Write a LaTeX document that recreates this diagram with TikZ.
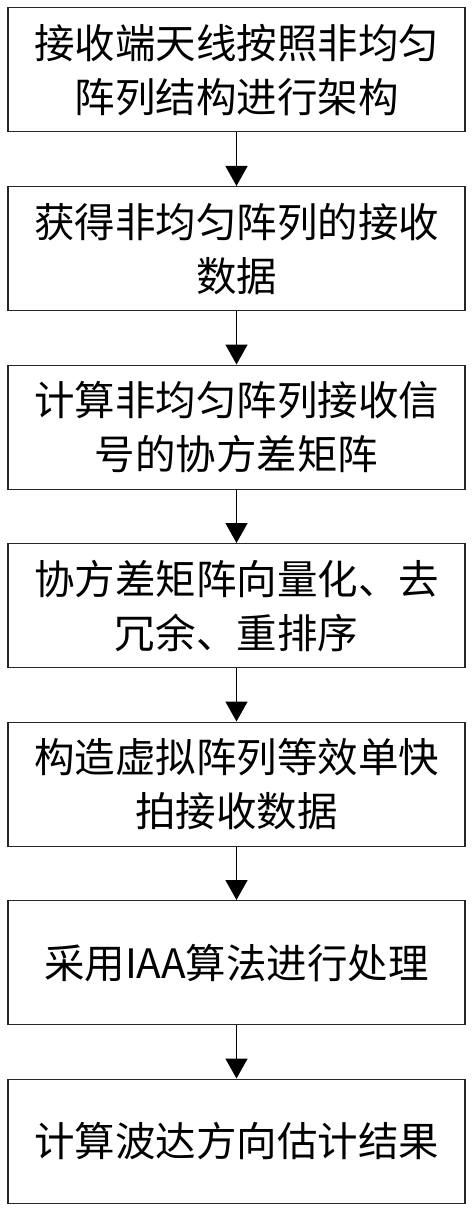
\documentclass[tikz,border=0pt]{standalone}
\usepackage{fontspec}
\newfontfamily\cjk{Noto Sans CJK SC}
\usetikzlibrary{arrows.meta}
\tikzset{
  stepbox/.style={draw=black!85, line width=1.3pt, minimum width=457pt, minimum height=124pt,
    inner sep=0pt, align=center, font=\cjk\fontsize{40.5}{54}\selectfont, anchor=north},
  flowarrow/.style={line width=1.6pt, -{Triangle[width=22pt,length=20pt]}}
}
\begin{document}
\begin{tikzpicture}[x=1pt,y=-1pt]
\useasboundingbox[fill=white] (0,0) rectangle (474,1209);
\node[stepbox] (b1) at (236.5,7) {接收端天线按照非均匀\\阵列结构进行架构};
\node[stepbox] (b2) at (236.5,186) {获得非均匀阵列的接收\\数据};
\node[stepbox] (b3) at (236.5,364.5) {计算非均匀阵列接收信\\号的协方差矩阵};
\node[stepbox] (b4) at (236.5,543) {协方差矩阵向量化、去\\冗余、重排序};
\node[stepbox] (b5) at (236.5,721.5) {构造虚拟阵列等效单快\\拍接收数据};
\node[stepbox] (b6) at (236.5,900) {采用IAA算法进行处理};
\node[stepbox] (b7) at (236.5,1078.5) {计算波达方向估计结果};
\foreach \a/\b in {b1/b2,b2/b3,b3/b4,b4/b5,b5/b6,b6/b7}
  \draw[flowarrow] (\a.south) -- (\b.north);
\end{tikzpicture}
\end{document}
